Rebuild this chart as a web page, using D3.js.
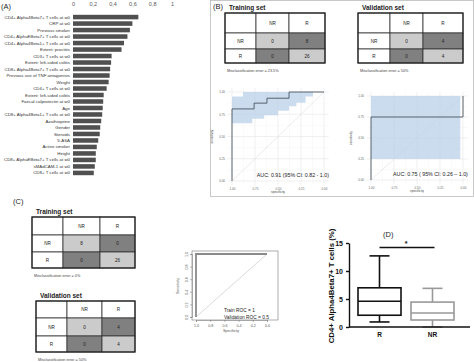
<!DOCTYPE html>
<html>
<head>
<meta charset="utf-8">
<script src="https://cdn.jsdelivr.net/npm/d3@7"></script>
<style>
  body { margin: 0; background: #fff; }
  svg { font-family: "Liberation Sans", Arial, sans-serif; }
</style>
</head>
<body>
<svg id="fig" width="474" height="362"></svg>
<script>
// ---- data (A) variable importance
var varNames = ["CD4+ Alpha4Beta7+ T cells at w0", "CRP at w0", "Previous smoker",
  "CD4+ AlphaEBeta7+ T cells at w0", "CD4+ Alpha4Beta1+ T cells at w0", "Extent: proctitis",
  "CD3+ T cells at w0", "Extent: left-sided colitis", "CD8+ Alpha4Beta7+ T cells at w0",
  "Previous use of TNF antagonists", "Weight", "CD4+ T cells at w0", "Extent: left-sided colitis",
  "Faecal calprotectin at w0", "Age", "CD8+ Alpha4Beta1+ T cells at w0", "Azathioprine", "Gender",
  "Steroids", "5-ASA", "Active smoker", "Height", "CD8+ AlphaEBeta7+ T cells at w0",
  "sMAdCAM-1 at w0", "CD8+ T cells at w0"];
var varImportance = [0.66, 0.60, 0.575, 0.55, 0.515, 0.49, 0.39, 0.385, 0.375, 0.37, 0.36, 0.34,
  0.31, 0.305, 0.30, 0.295, 0.285, 0.275, 0.27, 0.255, 0.24, 0.23, 0.23, 0.22, 0.21];
var importanceTicks = [0, 0.2, 0.4, 0.6, 0.8, 1];

// ---- confusion tables
var classNames = ["NR", "R"];
var trainB = [[0, 8], [0, 26]];
var validB = [[0, 4], [0, 4]];
var trainC = [[8, 0], [0, 26]];
var validC = [[0, 4], [0, 4]];

// ---- (B) ROC training
var rocTicks = [1, 0.75, 0.5, 0.25, 0];
var trainSpec = [1, 1, 0.76, 0.76, 0.62, 0.62, 0.38, 0.38, 0];
var trainSens = [0, 0.81, 0.81, 0.875, 0.875, 0.93, 0.93, 1, 1];
var trainCiSpec = [1, 0.88, 0.78, 0.65, 0.5, 0.38, 0.3, 0.2, 0.12, 0];
var trainCiLow = [0.65, 0.65, 0.70, 0.74, 0.79, 0.84, 0.88, 0.95, 1, 1];
var trainCiHigh = [0.95, 1, 1, 1, 1, 1, 1, 1, 1, 1];
// ---- (B) ROC validation
var validSpec = [1, 1, 0, 0];
var validSens = [0, 0.75, 0.75, 1];
var validCiSpec = [1, 0.03];
var validCiLow = [0.25, 0.27];
var validCiHigh = [1, 1];

// ---- (C) ROC
var baseTicks = [1, 0.8, 0.6, 0.4, 0.2, 0];
var cTrainSpec = [1, 1, 0];
var cTrainSens = [0, 1, 1];
var cValidSpec = [1, 0];
var cValidSens = [0, 1];

// ---- (D) boxplot
var groups = ["R", "NR"];
var boxLow = [0.9, 0];
var boxQ1 = [2.1, 1.25];
var boxMed = [4.6, 2.5];
var boxQ3 = [7.0, 4.45];
var boxHigh = [12.7, 6.9];
var boxColors = ["#111", "#999"];
var dTicks = [0, 5, 10, 15];

var svg = d3.select("#fig");

function label(txt, x, y, size) {
  svg.append("text").attr("x", x).attr("y", y).attr("font-size", size || 7.5)
    .attr("fill", "#222").text(txt);
}

// ================= (A)
label("(A)", 1, 9);
var ax = d3.scaleLinear().domain([0, 1]).range([73, 172]);
// names repeat, so the band scale works on the row index
var ay = d3.scaleBand().domain(d3.range(varNames.length)).range([14.8, 175.2]).paddingInner(0.3);
var gA = svg.append("g");
gA.append("g").attr("transform", "translate(0,9)")
  .call(d3.axisTop(ax).tickValues(importanceTicks).tickSize(0)
    .tickFormat(function (d) { return d === 0 || d === 1 ? d : d3.format(".1f")(d).replace(".", ","); }))
  .call(function (g) { g.select(".domain").remove(); })
  .selectAll("text").attr("font-size", 5.5).attr("fill", "#555").attr("font-family", "Liberation Sans, Arial");
gA.selectAll("rect.bar").data(varImportance).enter().append("rect")
  .attr("x", ax(0)).attr("y", function (d, i) { return ay(i); })
  .attr("width", function (d) { return ax(d) - ax(0); }).attr("height", ay.bandwidth())
  .attr("fill", "#505050");
gA.selectAll("text.lab").data(varNames).enter().append("text")
  .attr("x", 70).attr("y", function (d, i) { return ay(i) + ay.bandwidth() / 2; })
  .attr("dy", "0.35em").attr("text-anchor", "end").attr("font-size", 4.4).attr("fill", "#333")
  .text(function (d) { return d; });

// ================= tables
function drawTable(x0, y0, colW, rowH, values, title, error) {
  var g = svg.append("g");
  var xs = [x0], ys = [y0];
  colW.forEach(function (w) { xs.push(xs[xs.length - 1] + w); });
  rowH.forEach(function (h) { ys.push(ys[ys.length - 1] + h); });
  g.append("text").attr("x", x0 + 4).attr("y", y0 - 3).attr("font-size", 6.5)
    .attr("font-weight", "bold").attr("fill", "#222").text(title);
  for (var r = 0; r < 3; r++) {
    for (var c = 0; c < 3; c++) {
      var fill = "#fff", txt = "";
      if (r === 0 && c > 0) txt = classNames[c - 1];
      if (c === 0 && r > 0) txt = classNames[r - 1];
      if (r > 0 && c > 0) {
        fill = r === c ? "#cbcbcb" : "#808080";
        txt = values[r - 1][c - 1];
      }
      g.append("rect").attr("x", xs[c]).attr("y", ys[r]).attr("width", colW[c]).attr("height", rowH[r])
        .attr("fill", fill).attr("stroke", "#333").attr("stroke-width", 0.8);
      g.append("text").attr("x", (xs[c] + xs[c + 1]) / 2).attr("y", (ys[r] + ys[r + 1]) / 2)
        .attr("dy", "0.35em").attr("text-anchor", "middle").attr("font-size", 4.6).attr("fill", "#222")
        .text(txt);
    }
  }
  g.append("rect").attr("x", x0).attr("y", y0).attr("width", xs[3] - x0).attr("height", ys[3] - y0)
    .attr("fill", "none").attr("stroke", "#222").attr("stroke-width", 1.2);
  g.append("text").attr("x", x0 + 2).attr("y", ys[3] + 9).attr("font-size", 3.8).attr("fill", "#444")
    .text(error);
}

// ================= (B)
svg.append("rect").attr("x", 210.5).attr("y", 0.5).attr("width", 263).attr("height", 196)
  .attr("fill", "none").attr("stroke", "#bbb").attr("stroke-width", 0.8);
label("(B)", 213, 9);
drawTable(225, 13, [31, 33, 36], [20, 16, 14], trainB, "Training set", "Misclassification error = 23.5%");
drawTable(358, 13, [32, 33, 40], [20, 16, 14], validB, "Validation set", "Misclassification error = 50%");

function drawGgRoc(x0, x1, y0, y1, spec, sens, ciSpec, ciLow, ciHigh, auc, aucAt) {
  var x = d3.scaleLinear().domain([1, 0]).range([x0, x1]);
  var y = d3.scaleLinear().domain([0, 1]).range([y0, y1]);
  var g = svg.append("g");
  var minor = [0.875, 0.625, 0.375, 0.125];
  var grid = function (vals, col, w) {
    vals.forEach(function (v) {
      g.append("line").attr("x1", x(v)).attr("x2", x(v)).attr("y1", y(-0.05)).attr("y2", y(1.05))
        .attr("stroke", col).attr("stroke-width", w);
      g.append("line").attr("y1", y(v)).attr("y2", y(v)).attr("x1", x(1.05)).attr("x2", x(-0.05))
        .attr("stroke", col).attr("stroke-width", w);
    });
  };
  grid(minor, "#f2f2f2", 0.4);
  grid(rocTicks, "#e6e6e6", 0.6);
  g.append("line").attr("x1", x(1)).attr("y1", y(0)).attr("x2", x(0)).attr("y2", y(1))
    .attr("stroke", "#ddd").attr("stroke-width", 0.6);
  var ci = ciSpec.map(function (s, i) { return [s, ciLow[i], ciHigh[i]]; });
  g.append("path").datum(ci)
    .attr("d", d3.area().curve(d3.curveStepAfter)
      .x(function (d) { return x(d[0]); }).y0(function (d) { return y(d[1]); }).y1(function (d) { return y(d[2]); }))
    .attr("fill", "#b9d0e9").attr("fill-opacity", 0.75);
  var pts = spec.map(function (s, i) { return [s, sens[i]]; });
  g.append("path").datum(pts)
    .attr("d", d3.line().x(function (d) { return x(d[0]); }).y(function (d) { return y(d[1]); }))
    .attr("fill", "none").attr("stroke", "#4a5560").attr("stroke-width", 0.9);
  g.append("g").attr("transform", "translate(0," + (y0 + 4) + ")")
    .call(d3.axisBottom(x).tickValues(rocTicks).tickSize(0).tickFormat(d3.format(".2f")))
    .call(function (a) { a.select(".domain").remove(); })
    .selectAll("text").attr("font-size", 3).attr("fill", "#666");
  g.append("g").attr("transform", "translate(" + (x0 - 4) + ",0)")
    .call(d3.axisLeft(y).tickValues(rocTicks).tickSize(0).tickFormat(d3.format(".2f")))
    .call(function (a) { a.select(".domain").remove(); })
    .selectAll("text").attr("font-size", 3).attr("fill", "#666");
  g.append("text").attr("x", (x0 + x1) / 2).attr("y", y0 + 12).attr("text-anchor", "middle")
    .attr("font-size", 3.2).attr("fill", "#444").text("specificity");
  g.append("text").attr("transform", "translate(" + (x0 - 19) + "," + ((y0 + y1) / 2) + ") rotate(-90)")
    .attr("text-anchor", "middle").attr("font-size", 3.2).attr("fill", "#444").text("sensitivity");
  g.append("text").attr("x", x(aucAt)).attr("y", y(0.05)).attr("font-size", 5.3).attr("fill", "#222").text(auc);
}
drawGgRoc(232, 324, 181, 92, trainSpec, trainSens, trainCiSpec, trainCiLow, trainCiHigh,
  "AUC: 0.91 (95% CI: 0.82 - 1.0)", 0.73);
drawGgRoc(371, 463, 180, 96, validSpec, validSens, validCiSpec, validCiLow, validCiHigh,
  "AUC: 0.75 ( 95% CI: 0.26 \u2013 1.0)", 0.76);

// ================= (C)
label("(C)", 13, 204);
drawTable(32, 217, [31, 37, 35], [18, 17, 16], trainC, "Training set", "Misclassification error = 0%");
drawTable(36, 301, [31, 35, 33], [17, 18, 16], validC, "Validation set", "Misclassification error = 50%");

(function () {
  var x = d3.scaleLinear().domain([1, 0]).range([196, 267]);
  var y = d3.scaleLinear().domain([0, 1]).range([317, 254]);
  var g = svg.append("g");
  g.append("rect").attr("x", 192).attr("y", 251).attr("width", 86).attr("height", 69)
    .attr("fill", "none").attr("stroke", "#777").attr("stroke-width", 0.6);
  var line = d3.line().x(function (d) { return x(d[0]); }).y(function (d) { return y(d[1]); });
  g.append("path").datum(cValidSpec.map(function (s, i) { return [s, cValidSens[i]]; }))
    .attr("d", line).attr("fill", "none").attr("stroke", "#d0d0d0").attr("stroke-width", 0.8);
  g.append("path").datum(cTrainSpec.map(function (s, i) { return [s, cTrainSens[i]]; }))
    .attr("d", line).attr("fill", "none").attr("stroke", "#8a8a8a").attr("stroke-width", 1.8);
  var styleAxis = function (a) {
    a.select(".domain").attr("stroke", "#777").attr("stroke-width", 0.5);
    a.selectAll(".tick line").attr("stroke", "#777").attr("stroke-width", 0.5);
  };
  g.append("g").attr("transform", "translate(0,320)")
    .call(d3.axisBottom(x).tickValues(baseTicks).tickSize(2).tickPadding(2).tickFormat(d3.format(".1f")))
    .call(styleAxis)
    .selectAll("text").attr("font-size", 3.6).attr("fill", "#555");
  g.append("g").attr("transform", "translate(192,0)")
    .call(d3.axisLeft(y).tickValues(baseTicks).tickSize(2).tickFormat(d3.format(".1f")))
    .call(styleAxis)
    .selectAll("text").attr("font-size", 3.6).attr("fill", "#555")
    .attr("x", 0).attr("y", -4).attr("dy", 0).attr("text-anchor", "middle").attr("transform", "rotate(-90)");
  g.append("text").attr("x", 231).attr("y", 332).attr("text-anchor", "middle").attr("font-size", 3.6)
    .attr("fill", "#555").text("Specificity");
  g.append("text").attr("transform", "translate(179,286) rotate(-90)").attr("text-anchor", "middle")
    .attr("font-size", 3.6).attr("fill", "#555").text("Sensitivity");
  g.append("text").attr("x", 224).attr("y", 312).attr("font-size", 4.8).attr("fill", "#222").text("Train ROC = 1");
  g.append("text").attr("x", 224).attr("y", 318.5).attr("font-size", 4.8).attr("fill", "#222").text("Validation ROC = 0.5");
})();

// ================= (D)
label("(D)", 383, 237);
(function () {
  var y = d3.scaleLinear().domain([0, 15]).range([327, 243]);
  var x = d3.scalePoint().domain(groups).range([379.5, 432.5]);
  var g = svg.append("g");
  var bw = 43, cw = 20;
  groups.forEach(function (grp, i) {
    var cx = x(grp), col = boxColors[i];
    var ln = function (x1, y1, x2, y2) {
      g.append("line").attr("x1", x1).attr("y1", y1).attr("x2", x2).attr("y2", y2)
        .attr("stroke", col).attr("stroke-width", 1.6);
    };
    ln(cx, y(boxHigh[i]), cx, y(boxQ3[i]));
    ln(cx, y(boxQ1[i]), cx, y(boxLow[i]));
    ln(cx - cw / 2, y(boxHigh[i]), cx + cw / 2, y(boxHigh[i]));
    ln(cx - cw / 2, y(boxLow[i]), cx + cw / 2, y(boxLow[i]));
    g.append("rect").attr("x", cx - bw / 2).attr("y", y(boxQ3[i])).attr("width", bw)
      .attr("height", y(boxQ1[i]) - y(boxQ3[i])).attr("fill", "#fff").attr("stroke", col)
      .attr("stroke-width", 1.6);
    ln(cx - bw / 2, y(boxMed[i]), cx + bw / 2, y(boxMed[i]));
  });
  g.append("g").attr("transform", "translate(349,0)")
    .call(d3.axisLeft(y).tickValues(dTicks).tickSize(3).tickSizeOuter(0))
    .call(function (a) { a.selectAll("path,line").attr("stroke", "#111").attr("stroke-width", 1.4); })
    .selectAll("text").attr("font-size", 7).attr("font-weight", "bold").attr("fill", "#111");
  g.append("line").attr("x1", 349).attr("x2", 470).attr("y1", y(0)).attr("y2", y(0))
    .attr("stroke", "#111").attr("stroke-width", 1.4);
  groups.forEach(function (grp) {
    g.append("text").attr("x", x(grp)).attr("y", 337).attr("text-anchor", "middle").attr("font-size", 6.5)
      .attr("font-weight", "bold").attr("fill", "#111").text(grp);
  });
  g.append("line").attr("x1", x("R")).attr("x2", x("NR") + 2).attr("y1", 247.5).attr("y2", 247.5)
    .attr("stroke", "#111").attr("stroke-width", 1.5);
  g.append("text").attr("x", (x("R") + x("NR")) / 2).attr("y", 246).attr("text-anchor", "middle")
    .attr("font-size", 7).attr("font-weight", "bold").attr("fill", "#111").text("*");
  g.append("text").attr("transform", "translate(334,286) rotate(-90)").attr("text-anchor", "middle")
    .attr("font-size", 7.8).attr("font-weight", "bold").attr("fill", "#111")
    .text("CD4+ Alpha4Beta7+ T cells (%)");
})();
</script>
</body>
</html>
